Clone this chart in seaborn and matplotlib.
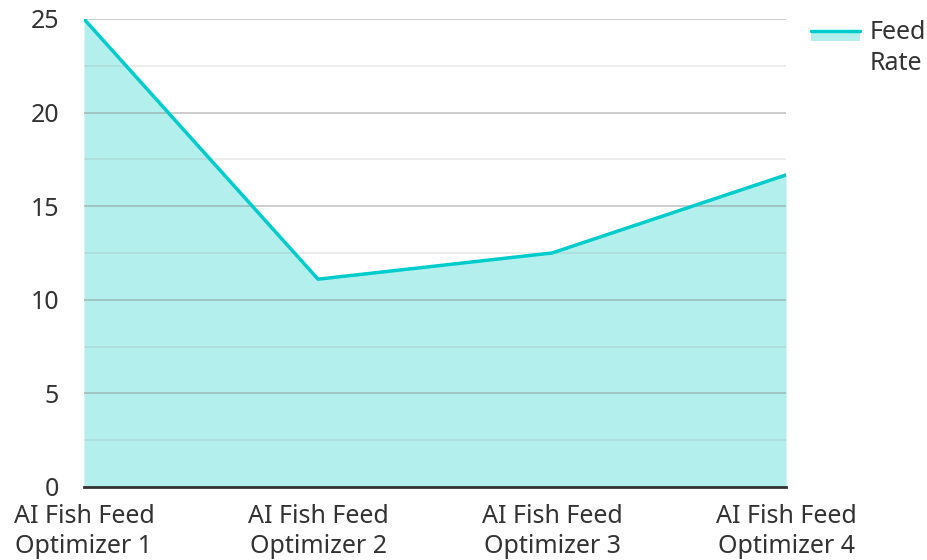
import matplotlib
matplotlib.use("Agg")
import matplotlib.pyplot as plt
import seaborn as sns
import pandas as pd
from matplotlib.legend_handler import HandlerBase
from matplotlib.patches import Rectangle
from matplotlib.lines import Line2D

categories = ["AI Fish Feed\nOptimizer 1", "AI Fish Feed\nOptimizer 2",
              "AI Fish Feed\nOptimizer 3", "AI Fish Feed\nOptimizer 4"]
feed_rate = [25, 11.1, 12.5, 16.67]
y_ticks = [0, 5, 10, 15, 20, 25]
series_name = "Feed\nRate"

LINE_COLOR = "#00cccc"
FILL_COLOR = "#b2efed"


class AreaHandler(HandlerBase):
    # filled box with the line along its top edge, aligned to the first text line
    def create_artists(self, legend, orig, xd, yd, w, h, fontsize, trans):
        top = yd + h / 2 + 0.72 * fontsize
        rect = Rectangle((xd, top - 0.42 * fontsize), w, 0.42 * fontsize,
                         facecolor=FILL_COLOR, edgecolor="none", transform=trans)
        line = Line2D([xd, xd + w], [top, top], color=LINE_COLOR, lw=2.5,
                      transform=trans)
        return [rect, line]


def main():
    sns.set_theme(style="white")
    plt.rcParams["font.family"] = ["Noto Sans", "Open Sans", "DejaVu Sans"]

    df = pd.DataFrame({"name": categories, "rate": feed_rate})
    df["pos"] = range(len(df))

    fig = plt.figure(figsize=(9.27, 5.6), dpi=100)
    ax = fig.add_axes([0.0906, 0.1304, 0.7574, 0.8357])

    ax.fill_between(df["pos"], 0, df["rate"], color=FILL_COLOR, lw=0, zorder=1)
    sns.lineplot(data=df, x="pos", y="rate", ax=ax, color=LINE_COLOR, lw=2.5,
                 zorder=3, legend=False)

    ax.set_xlim(0, len(df) - 1)
    ax.set_ylim(0, 25)
    ax.set_yticks(y_ticks)
    ax.set_yticks([2.5, 7.5, 12.5, 17.5, 22.5], minor=True)
    ax.set_xticks(df["pos"])
    ax.set_xticklabels(categories, linespacing=1.3)
    ax.grid(axis="y", which="major", color="#888888", alpha=0.45, lw=1.3, zorder=2)
    ax.grid(axis="y", which="minor", color="#999999", alpha=0.2, lw=1.3, zorder=2)
    ax.set_axisbelow(False)

    for s in ["left", "right", "top"]:
        ax.spines[s].set_visible(False)
    ax.spines["bottom"].set_color("#333333")
    ax.spines["bottom"].set_linewidth(2)
    ax.spines["bottom"].set_zorder(4)

    ax.tick_params(axis="both", which="both", length=0, labelsize=18,
                   labelcolor="#333333")
    ax.tick_params(axis="y", pad=18)
    ax.tick_params(axis="x", pad=12)
    ax.set_xlabel("")
    ax.set_ylabel("")

    leg = fig.legend(handles=[Line2D([], [])], labels=[series_name],
                     handler_map={Line2D: AreaHandler()},
                     loc="upper left", bbox_to_anchor=(0.851, 1.005), frameon=False,
                     fontsize=18, handlelength=1.95, handletextpad=0.38,
                     labelcolor="#333333")
    leg.get_texts()[0].set_linespacing(1.35)

    fig.savefig("out.png", dpi=100)
    plt.close(fig)


if __name__ == "__main__":
    main()
